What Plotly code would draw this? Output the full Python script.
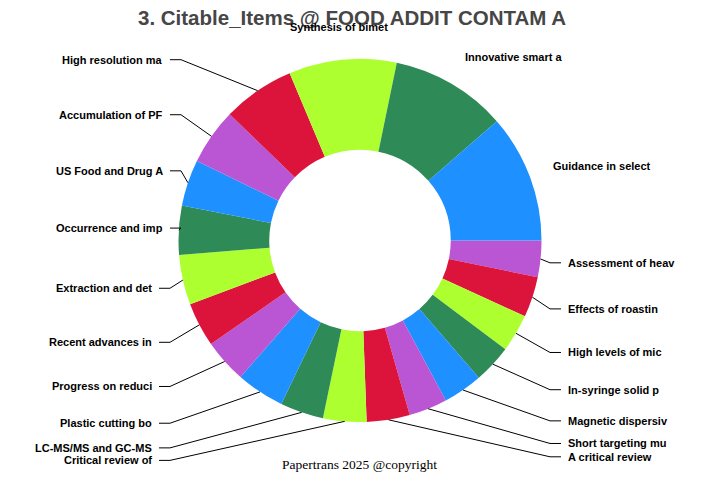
import math
import plotly.graph_objects as go

# ---- data ----
labels = ["Assessment of heav", "Effects of roastin", "High levels of mic", "In-syringe solid p",
          "Magnetic dispersiv", "Short targeting mu", "A critical review ", "Critical review of",
          "LC-MS/MS and GC-MS", "Plastic cutting bo", "Progress on reduci", "Recent advances in",
          "Extraction and det", "Occurrence and imp", "US Food and Drug A", "Accumulation of PF",
          "High resolution ma", "Synthesis of bimet", "Innovative smart a", "Guidance in select"]
values = [11.7, 13.0, 12.1, 12.3, 12.7, 12.3, 13.8, 13.9, 13.9, 15.5,
          14.0, 14.2, 16.0, 15.7, 14.9, 18.1, 23.1, 34.5, 37.2, 41.1]
palette = ["#BA55D3", "#DC143C", "#ADFF2F", "#2E8B57", "#1E90FF"]
colors = [palette[i % len(palette)] for i in range(len(labels))]

title_text = "3. Citable_Items @ FOOD ADDIT CONTAM A"
credit_text = "Papertrans 2025 @copyright"

# ---- layout geometry ----
W, H = 712, 472          # figure size (page adds an 8px body margin)
OFF = 8
L, Rm, T, B = 70, 78, 51, 58
PW, PH = W - L - Rm, H - T - B
ROT = 90                 # first slice starts at 3 o'clock, clockwise

CX = OFF + L + PW / 2    # screen pixel coords of pie centre
CY = OFF + T + PH / 2
RAD = min(PW, PH) / 2


def px(xs):
    return (xs - OFF - L) / PW


def py(ys):
    return 1 - (ys - OFF - T) / PH


fig = go.Figure(go.Pie(
    labels=labels,
    values=values,
    hole=0.5,
    sort=False,
    direction="clockwise",
    rotation=ROT,
    marker=dict(colors=colors, line=dict(width=0)),
    textinfo="none",
    showlegend=False,
    domain=dict(x=[0, 1], y=[0, 1]),
))

# ---- label layout derived from the slice angles ----
total = sum(values)
cum = 0.0
items = []
for lab, v in zip(labels, values):
    a0 = ROT + cum / total * 360
    cum += v
    a1 = ROT + cum / total * 360
    mid = (a0 + a1) / 2
    m = (mid + 180) % 360 - 180          # -180..180, clockwise from north
    t = math.radians(m)
    items.append(dict(label=lab, ang=m, s=math.sin(t), c=math.cos(t)))

LAB_R = 219
GAP = 12.5
font = dict(family="Arial, Liberation Sans", size=11, color="#000000", weight="bold")
annotations = []
shapes = []

free = [it for it in items if -20 < it["ang"] < 75]
sided = [it for it in items if not (-20 < it["ang"] < 75)]

for it in free:
    if abs(it["s"]) < 0.2:
        xs, ys, anc = CX + 215 * it["s"], CY - 215 * it["c"], "center"
    else:
        xs, ys = CX + 204 * it["s"], CY - 213 * it["c"]
        anc = "left" if it["s"] > 0 else "right"
    annotations.append(dict(text=it["label"], x=px(xs), y=py(ys), xref="paper", yref="paper",
                            xanchor=anc, yanchor="middle", showarrow=False, font=font))

for side in (1, -1):
    grp = [it for it in sided if (it["s"] > 0) == (side > 0)]
    for it in grp:
        it["y"] = CY - LAB_R * it["c"]
    grp.sort(key=lambda d: d["y"])
    for i in range(1, len(grp)):
        if grp[i]["y"] < grp[i - 1]["y"] + GAP:
            grp[i]["y"] = grp[i - 1]["y"] + GAP
    for it in grp:
        y = it["y"]
        inner = 11 if (side < 0 and y < CY) else 0
        x1, y1 = CX + RAD * it["s"], CY - RAD * it["c"]
        x2 = CX + side * (190 - inner)
        x3 = CX + side * (201 - inner)
        xt = CX + side * (206 - inner)
        path = "M {:.5f},{:.5f} L {:.5f},{:.5f} L {:.5f},{:.5f}".format(
            px(x1), py(y1), px(x2), py(y), px(x3), py(y))
        shapes.append(dict(type="path", path=path, xref="paper", yref="paper",
                           line=dict(color="#000000", width=1)))
        annotations.append(dict(text=it["label"], x=px(xt), y=py(y), xref="paper", yref="paper",
                                xanchor="left" if side > 0 else "right", yanchor="middle",
                                showarrow=False, font=font))

annotations.append(dict(text=credit_text, x=px(359), y=py(464), xref="paper", yref="paper",
                        showarrow=False, xanchor="center", yanchor="middle",
                        font=dict(family="Times New Roman, Liberation Serif", size=13.5, color="#000000")))

fig.update_layout(
    width=W, height=H,
    margin=dict(l=L, r=Rm, t=T, b=B),
    paper_bgcolor="white",
    plot_bgcolor="white",
    title=dict(text=title_text, x=(354 - OFF) / W, xanchor="center", xref="paper",
               y=1 - (18 - OFF) / H, yanchor="middle", yref="container",
               font=dict(family="Arial, Liberation Sans", size=20.5, color="#464646", weight="bold")),
    annotations=annotations,
    shapes=shapes,
)

fig.write_html("out.html")
